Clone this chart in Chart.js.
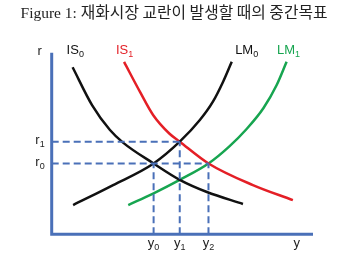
<!DOCTYPE html>
<html>
<head>
<meta charset="utf-8">
<script src="https://cdn.jsdelivr.net/npm/chart.js@4"></script>
<style>
  html, body { margin: 0; padding: 0; background: #fff; }
  #wrap { width: 348px; height: 262px; }
</style>
</head>
<body>
<div id="wrap"><canvas id="grafico"></canvas></div>
<script>
// Curvas
const is0X = [8, 15.5, 22.3, 27.3, 39, 49, 59.4, 73.2];
const is0Y = [92, 71, 57.4, 50.5, 39, 30, 23.3, 16.7];
const is1X = [27.7, 33.8, 38.8, 45, 49, 60, 77, 92.3];
const is1Y = [94.9, 78.4, 65.7, 55.5, 51, 39, 27.1, 18.8];
const lm0X = [8.2, 23.5, 39, 49, 56.7, 61.7, 65.6, 68.9];
const lm0Y = [16.1, 27.1, 39, 51, 62.9, 73, 84, 95];
const lm1X = [29.3, 39, 49, 60, 67.9, 74.6, 81, 86.1, 89.9];
const lm1Y = [16.1, 22.6, 30, 39, 48.3, 58, 69.4, 82.2, 95];

// Níveis de equilíbrio
const rLabels = ['0', '1'];
const rValues = [39, 51];
const yLabels = ['0', '1', '2'];
const yValues = [39, 49, 60];
const yTops = [39, 51, 39];
const curveNames = [['IS', '0'], ['IS', '1'], ['LM', '0'], ['LM', '1']];

const tituloLatim = 'Figure 1: ';
const tituloCoreano = '재화시장 교란이 발생할 때의 중간목표';

const azul = '#4a70b8';
const fonte = "'Liberation Sans', Arial, sans-serif";

function pontos(xs, ys) {
    return xs.map((v, i) => ({ x: v, y: ys[i] }));
}

function curva(xs, ys, cor) {
    return {
        data: pontos(xs, ys),
        borderColor: cor,
        borderWidth: 2.5,
        pointRadius: 0,
        showLine: true,
        fill: false,
        cubicInterpolationMode: 'monotone',
        clip: false
    };
}

function tracejado(pts) {
    return {
        data: pts,
        borderColor: azul,
        borderWidth: 2,
        borderDash: [7, 4],
        pointRadius: 0,
        showLine: true,
        fill: false,
        clip: false
    };
}

const datasets = [];
// linhas horizontais r0, r1
rValues.forEach((r, i) => {
    const ate = i === 0 ? yValues[2] : yValues[1];
    datasets.push(tracejado([{ x: 0, y: r }, { x: ate, y: r }]));
});
// linhas verticais y0, y1, y2
yValues.forEach((v, i) => {
    datasets.push(tracejado([{ x: v, y: 0 }, { x: v, y: yTops[i] }]));
});
datasets.push(curva(is0X, is0Y, '#111111'));
datasets.push(curva(lm0X, lm0Y, '#111111'));
datasets.push(curva(is1X, is1Y, '#e41f26'));
datasets.push(curva(lm1X, lm1Y, '#17a550'));

function textoSub(ctx, main, sub, x, y, cor, alinhar) {
    ctx.font = '13px ' + fonte;
    const wm = ctx.measureText(main).width;
    ctx.font = '9px ' + fonte;
    const ws = ctx.measureText(sub).width;
    let x0 = x;
    if (alinhar === 'center') x0 = x - (wm + ws) / 2;
    if (alinhar === 'right') x0 = x - (wm + ws);
    ctx.fillStyle = cor;
    ctx.textBaseline = 'middle';
    ctx.textAlign = 'left';
    ctx.font = '13px ' + fonte;
    ctx.fillText(main, x0, y);
    ctx.font = '9px ' + fonte;
    ctx.fillText(sub, x0 + wm, y + 4);
}

const eixos = {
    id: 'eixos',
    beforeDatasetsDraw(chart) {
        const { ctx, scales: { x, y } } = chart;
        ctx.save();
        ctx.strokeStyle = azul;
        ctx.lineWidth = 3;
        ctx.beginPath();
        ctx.moveTo(x.getPixelForValue(0), y.getPixelForValue(100));
        ctx.lineTo(x.getPixelForValue(0), y.getPixelForValue(0));
        ctx.lineTo(x.getPixelForValue(100), y.getPixelForValue(0));
        ctx.stroke();
        ctx.restore();
    },
    afterDatasetsDraw(chart) {
        const { ctx, scales: { x, y } } = chart;
        const x0 = x.getPixelForValue(0);
        const yb = y.getPixelForValue(0);
        ctx.save();
        // título (latim serifado + coreano)
        const fLat = "15.5px 'Liberation Serif', serif";
        const fKor = "15.8px 'Noto Sans CJK KR', sans-serif";
        ctx.font = fLat;
        const w1 = ctx.measureText(tituloLatim).width;
        ctx.font = fKor;
        const w2 = ctx.measureText(tituloCoreano).width;
        const tx = chart.width / 2 - (w1 + w2) / 2;
        ctx.fillStyle = '#222';
        ctx.textAlign = 'left';
        ctx.textBaseline = 'alphabetic';
        ctx.font = fLat;
        ctx.fillText(tituloLatim, tx, 18);
        ctx.font = fKor;
        ctx.fillText(tituloCoreano, tx + w1, 18);
        // rótulos dos eixos
        ctx.font = '13px ' + fonte;
        ctx.textAlign = 'center';
        ctx.textBaseline = 'middle';
        ctx.fillText('r', x0 - 12, y.getPixelForValue(100) - 1);
        ctx.fillText('y', x.getPixelForValue(93.8), yb + 9);
        // r0, r1
        rValues.forEach((r, i) => {
            textoSub(ctx, 'r', rLabels[i], x0 - 7, y.getPixelForValue(r) - 1, '#222', 'right');
        });
        // y0, y1, y2
        yValues.forEach((v, i) => {
            textoSub(ctx, 'y', yLabels[i], x.getPixelForValue(v), yb + 9, '#222', 'center');
        });
        // nomes das curvas
        const cores = ['#111', '#e41f26', '#111', '#17a550'];
        const lx = [5.7, 24.6, 70.2, 86.2];
        curveNames.forEach((n, i) => {
            textoSub(ctx, n[0], n[1], x.getPixelForValue(lx[i]), y.getPixelForValue(101), cores[i], 'left');
        });
        ctx.restore();
    }
};

const ctx = document.getElementById('grafico').getContext('2d');
const grafico = new Chart(ctx, {
    type: 'scatter',
    data: { datasets: datasets },
    options: {
        responsive: true,
        maintainAspectRatio: false,
        animation: false,
        layout: {
            padding: { left: 51.7, right: 35, top: 52.7, bottom: 27.7 }
        },
        scales: {
            x: { type: 'linear', min: 0, max: 100, display: false },
            y: { type: 'linear', min: 0, max: 100, display: false }
        },
        plugins: {
            legend: { display: false },
            tooltip: { enabled: false },
            title: { display: false }
        }
    },
    plugins: [eixos]
});
</script>
</body>
</html>
